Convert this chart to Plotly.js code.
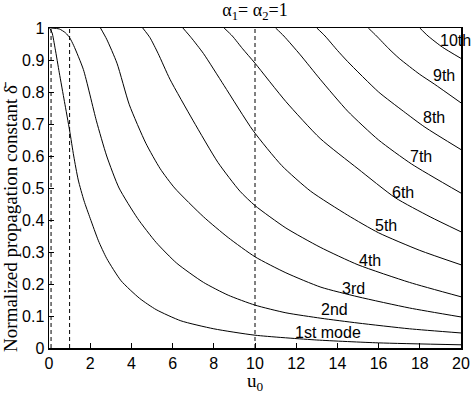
<!DOCTYPE html>
<html>
<head>
<meta charset="utf-8">
<script src="https://cdn.plot.ly/plotly-3.0.1.min.js"></script>
<style>html,body{margin:0;padding:0;background:#fff;}#chart{width:474px;height:395px;}</style>
</head>
<body>
<div id="chart"></div>
<script>
// Mode curves (u0, normalized propagation constant)
const modeNames = ["1st mode","2nd","3rd","4th","5th","6th","7th","8th","9th","10th"];
const m1x = [0.03,0.15,0.3,0.5,0.75,1.0,1.2,1.42,1.7,2.0,2.4,2.8,3.5,4.4,5.2,6.4,8,10,13,16,20];
const m1y = [1.0,0.985,0.935,0.86,0.77,0.68,0.6,0.525,0.46,0.405,0.335,0.28,0.21,0.155,0.12,0.085,0.06,0.04,0.025,0.016,0.01];
const m2x = [0.1,0.5,0.8,1.0,1.2,1.67,2.3,2.8,3.4,4.3,5.2,6.2,7.5,8.7,10,11.5,13.2,15,17.5,20];
const m2y = [1.0,0.997,0.985,0.97,0.945,0.87,0.71,0.6,0.5,0.405,0.33,0.265,0.205,0.165,0.134,0.11,0.093,0.078,0.06,0.047];
const m3x = [2.5,2.8,3.3,3.9,4.7,5.4,6.1,7.5,8.7,10,11.5,13.2,15,17.5,20];
const m3y = [1.0,0.965,0.89,0.76,0.64,0.56,0.5,0.41,0.345,0.285,0.235,0.19,0.16,0.125,0.097];
const m4x = [4.55,4.9,5.3,5.87,7.0,8.2,9.27,10,11.5,13.16,15,17.5,20];
const m4y = [1.0,0.97,0.92,0.84,0.71,0.58,0.49,0.445,0.375,0.315,0.26,0.205,0.16];
const m5x = [6.5,6.9,7.5,8.5,9.9,11.3,12.7,14.5,16,18,20];
const m5y = [1.0,0.97,0.92,0.82,0.68,0.57,0.49,0.415,0.36,0.305,0.26];
const m6x = [8.5,8.9,9.4,10,11.5,13.16,15,16.8,18.5,20];
const m6y = [1.0,0.975,0.935,0.89,0.77,0.655,0.56,0.47,0.41,0.363];
const m7x = [11.0,11.4,12.2,13.16,14.5,16,17.6,20];
const m7y = [1.0,0.975,0.916,0.84,0.74,0.65,0.575,0.484];
const m8x = [13.0,13.4,14.0,14.5,16,17.2,18.25,20];
const m8y = [1.0,0.975,0.93,0.895,0.8,0.74,0.69,0.62];
const m9x = [15.5,15.9,16.5,17,18,18.7,20];
const m9y = [1.0,0.975,0.935,0.905,0.855,0.825,0.766];
const m10x = [18.0,18.4,19.1,20];
const m10y = [1.0,0.975,0.94,0.905];
// dashed reference lines at these u0 values
const markers = [0.1, 1, 10];
const xTicks = [0,2,4,6,8,10,12,14,16,18,20];
const yTicks = [0,0.1,0.2,0.3,0.4,0.5,0.6,0.7,0.8,0.9,1];
const yTickText = ["0","0.1","0.2","0.3","0.4","0.5","0.6","0.7","0.8","0.9","1"];
// label anchor positions in data units
const labelX = [13.54,13.88,14.76,15.58,16.36,17.18,18.06,18.69,19.17,19.75];
const labelY = [0.047,0.119,0.1875,0.275,0.384,0.4875,0.597,0.719,0.853,0.9625];

const xs = [m1x,m2x,m3x,m4x,m5x,m6x,m7x,m8x,m9x,m10x];
const ys = [m1y,m2y,m3y,m4y,m5y,m6y,m7y,m8y,m9y,m10y];

const traces = [];
markers.forEach(u => {
  traces.push({x:[u,u], y:[0,1], mode:'lines', line:{color:'#000', width:1, dash:'4px,3px'}, hoverinfo:'skip', showlegend:false});
});
xs.forEach((x,i) => {
  traces.push({x:x, y:ys[i], mode:'lines', name:modeNames[i], line:{color:'#000', width:1, shape:'spline', smoothing:0.6}, showlegend:false});
});

const annotations = modeNames.map((t,i) => ({
  x: labelX[i], y: labelY[i], xref:'x', yref:'y', text:t, showarrow:false,
  font:{family:'Liberation Sans, Arial, sans-serif', size:16, color:'#000'}
}));
annotations.push({
  xref:'paper', yref:'paper', x:-0.092, xanchor:'center', y:0.41, yanchor:'middle',
  text:'Normalized propagation constant δ\u0304',
  textangle:-90, showarrow:false, font:{family:'Liberation Serif, Times New Roman, serif', size:19, color:'#000'}
});
annotations.push({
  xref:'paper', yref:'paper', x:0.502, xanchor:'center', y:-0.063, yanchor:'top', text:'u<sub>0</sub>',
  showarrow:false, font:{family:'Liberation Serif, Times New Roman, serif', size:19, color:'#000'}
});

const layout = {
  width:474, height:395,
  margin:{l:49, r:13, t:28, b:47},
  paper_bgcolor:'#fff', plot_bgcolor:'#fff',
  title:{text:'α<sub>1</sub>= α<sub>2</sub>=1', x:0.538, xanchor:'center', y:0.976, yanchor:'middle',
         font:{family:'Liberation Serif, Times New Roman, serif', size:18, color:'#000'}},
  xaxis:{range:[0,20], tickvals:xTicks, ticktext:xTicks.map(String), ticks:'inside', ticklen:5, tickcolor:'#000',
         showline:true, linecolor:'#000', linewidth:1.5, mirror:true, showgrid:false, zeroline:false,
         tickfont:{family:'Liberation Sans, Arial, sans-serif', size:16, color:'#000'}},
  yaxis:{range:[0,1], tickvals:yTicks, ticktext:yTickText, ticks:'inside', ticklen:5, tickcolor:'#000',
         showline:true, linecolor:'#000', linewidth:1.5, mirror:true, showgrid:false, zeroline:false,
         tickfont:{family:'Liberation Sans, Arial, sans-serif', size:16, color:'#000'}},
  annotations: annotations
};
Plotly.newPlot('chart', traces, layout, {displayModeBar:false, staticPlot:true});
</script>
</body>
</html>
